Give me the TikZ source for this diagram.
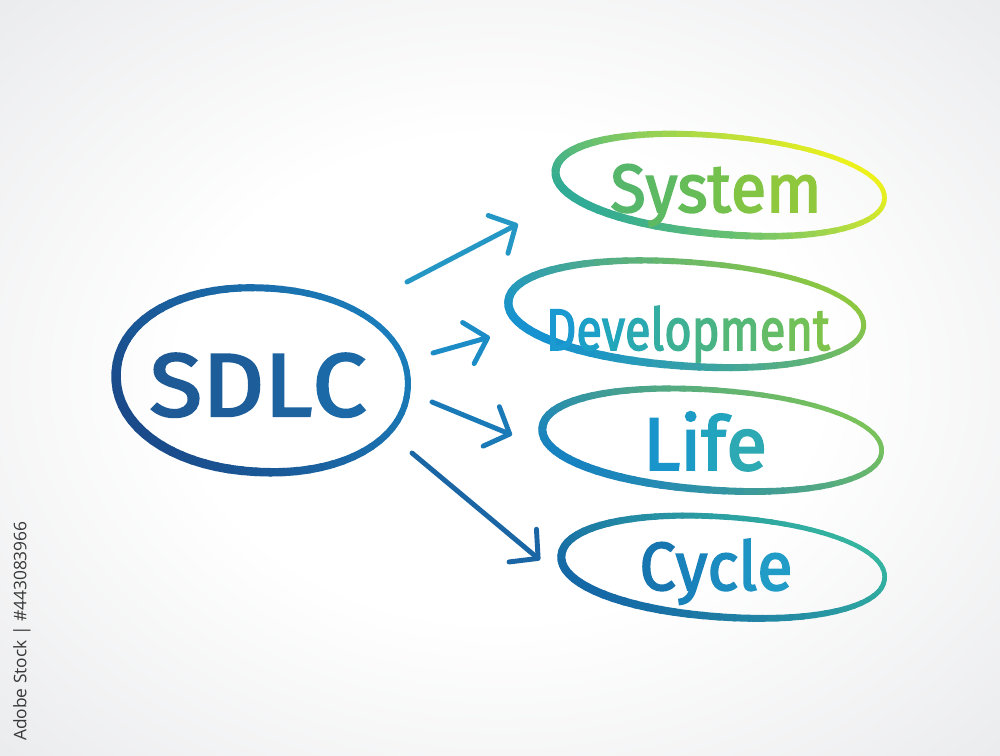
\documentclass[tikz,border=0pt]{standalone}
\usepackage{fontspec}
\setmainfont{Fira Sans}
\newfontfamily\hand[FakeBold=2.6]{Fira Sans}
\newfontfamily\idfont{Open Sans}
\usetikzlibrary{arrows.meta}
\definecolor{bggray}{HTML}{E6E7E9}
\pgfdeclareradialshading{bgshade}{\pgfpoint{0bp}{0bp}}{color(0bp)=(white); color(16bp)=(white); color(40bp)=(bggray); color(50bp)=(bggray)}
\newcommand\lc[2]{\textcolor[HTML]{#1}{#2}}
% cx cy rx ry rot colL colR wbase
\newcommand\handell[8]{%
\definecolor{elL}{HTML}{#6}\definecolor{elR}{HTML}{#7}%
\begin{scope}[shift={(#1,#2)},rotate=#5]
\foreach \a in {0,5,...,355}{
  \pgfmathtruncatemacro\pp{50+50*cos(\a+30)}
  \pgfmathsetmacro\ww{#8+1.4*cos(\a-150)}
  \draw[line width=\ww pt, line cap=round, color=elR!\pp!elL]
    plot[domain=\a:\a+5.5, samples=4, smooth]
    ({#3*cos(\x)/(abs(cos(\x))+0.001)^0.05},{#4*sin(\x)/(abs(sin(\x))+0.001)^0.05});
}
\end{scope}}
\tikzset{
  arr/.style={line width=3.7pt, line cap=round, line join=round,
    -{Straight Barb[length=15pt,width=32pt,round]}},
  lbl/.style={inner sep=0pt, anchor=base, font=\hand},
}
\definecolor{ac1}{HTML}{2597C5}
\definecolor{ac2}{HTML}{1B8CC6}
\definecolor{ac3}{HTML}{1A7AB7}
\definecolor{ac4}{HTML}{1A66A5}
\begin{document}
\begin{tikzpicture}[x=0.75pt,y=-0.75pt]
\useasboundingbox (0,0) rectangle (1000,756);
\shade[shading=bgshade] (0,0) rectangle (1000,756);

% ellipses
\handell{262}{380}{146}{92}{-3}{1A4A8A}{1A7DBA}{5.8}
\handell{720}{185}{165}{49}{-5}{30AB95}{EEF21A}{4.8}
\handell{686}{314}{178}{52}{-4}{1592CF}{8DC840}{5.0}
\handell{712}{440}{170}{50}{-4}{1782C0}{7AC35A}{4.8}
\handell{723}{567}{162}{50}{-4}{1568A6}{35B5A0}{4.8}

% labels
\node[lbl] (tsdlc) at (258,416) {\fontsize{67}{67}\selectfont
  \scalebox{1.08}[1]{\lc{1D5A96}{S}\lc{1D5E9A}{D}\lc{1C63A0}{L}\lc{1B69A6}{C}}};
\node[lbl] (tsys) at (716,212) {\fontsize{51}{51}\selectfont
  \scalebox{0.95}[1]{\lc{56B76A}{S}\lc{5EBA62}{y}\lc{66BD58}{s}\lc{74C14D}{t}\lc{82C545}{e}\lc{90C83D}{m}}};
\node[lbl] (tdev) at (688,350) {\fontsize{44}{44}\selectfont
  \scalebox{0.8}[1]{\lc{1A9AD0}{D}\lc{1CA0C8}{e}\lc{22A6BC}{v}\lc{2AAAB0}{e}\lc{34AEA2}{l}\lc{3EB194}{o}\lc{48B486}{p}\lc{56B876}{m}\lc{64BC66}{e}\lc{72C058}{n}\lc{7EC44C}{t}}};
\node[lbl] (tlife) at (705,470) {\fontsize{56}{56}\selectfont
  \lc{1A95CB}{L}\lc{1C9BC6}{i}\lc{22A3BE}{f}\lc{2CA9B2}{e}};
\node[lbl] (tcycle) at (716,590) {\fontsize{51}{51}\selectfont
  \scalebox{0.95}[1]{\lc{1776B0}{C}\lc{1A82BA}{y}\lc{1C8CC0}{c}\lc{1E94C4}{l}\lc{209CC6}{e}}};

% arrow end points
\coordinate (a1s) at (407,282); \coordinate (a1e) at (518,224);
\coordinate (a2s) at (433,353); \coordinate (a2e) at (490,337);
\coordinate (a3s) at (432,402); \coordinate (a3e) at (512,435);
\coordinate (a4s) at (412,453); \coordinate (a4e) at (540,560);
\draw[arr, ac1] (a1s) -- (a1e);
\draw[arr, ac2] (a2s) -- (a2e);
\draw[arr, ac3] (a3s) -- (a3e);
\draw[arr, ac4] (a4s) -- (a4e);

% stock id
\node[rotate=90, anchor=west, inner sep=0pt, text=black!78, font=\idfont\fontsize{13}{13}\selectfont]
  (stockid) at (22,741) {Adobe Stock | \#443083966};
\end{tikzpicture}
\end{document}
